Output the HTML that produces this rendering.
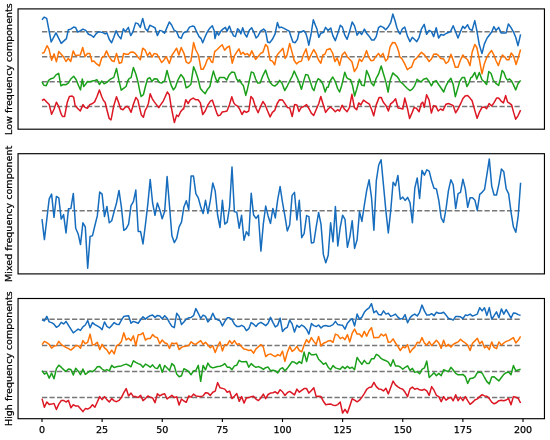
<!DOCTYPE html>
<html><head><meta charset="utf-8"><style>html,body{margin:0;padding:0;background:#fff;}svg{display:block;}</style></head><body>
<svg width="550" height="440" viewBox="0 0 550 440">
<rect width="550" height="440" fill="#fff"/>
<line x1="42.00" y1="31.8" x2="520.60" y2="31.8" stroke="#777777" stroke-width="1.5" stroke-dasharray="5.24 2.26"/>
<line x1="42.00" y1="56.7" x2="520.60" y2="56.7" stroke="#777777" stroke-width="1.5" stroke-dasharray="5.24 2.26"/>
<line x1="42.00" y1="81.7" x2="520.60" y2="81.7" stroke="#777777" stroke-width="1.5" stroke-dasharray="5.24 2.26"/>
<line x1="42.00" y1="106.6" x2="520.60" y2="106.6" stroke="#777777" stroke-width="1.5" stroke-dasharray="5.24 2.26"/>
<line x1="42.00" y1="210.8" x2="520.60" y2="210.8" stroke="#777777" stroke-width="1.5" stroke-dasharray="5.24 2.26"/>
<line x1="42.00" y1="319.3" x2="520.60" y2="319.3" stroke="#777777" stroke-width="1.5" stroke-dasharray="5.24 2.26"/>
<line x1="42.00" y1="345.4" x2="520.60" y2="345.4" stroke="#777777" stroke-width="1.5" stroke-dasharray="5.24 2.26"/>
<line x1="42.00" y1="371.4" x2="520.60" y2="371.4" stroke="#777777" stroke-width="1.5" stroke-dasharray="5.24 2.26"/>
<line x1="42.00" y1="397.5" x2="520.60" y2="397.5" stroke="#777777" stroke-width="1.5" stroke-dasharray="5.24 2.26"/>
<polyline points="42.0,19.8 44.1,17.1 46.7,18.4 51.2,42.0 56.0,32.9 61.2,43.4 66.4,38.6 68.3,29.8 70.7,29.1 73.7,27.1 75.5,27.4 77.8,32.1 80.5,30.7 83.0,29.1 85.7,30.4 88.5,34.3 91.2,35.2 93.6,37.3 96.0,33.9 98.0,32.1 100.7,32.1 103.5,32.9 105.1,33.9 106.9,32.9 109.2,39.3 111.6,42.7 113.8,37.3 116.1,30.7 118.5,35.9 120.9,38.9 123.4,28.8 125.3,31.6 128.4,27.4 130.7,35.6 132.9,31.8 135.6,22.9 137.9,23.6 140.3,27.4 142.7,18.4 145.2,28.4 147.5,31.1 149.8,25.3 152.3,26.4 155.0,27.7 157.4,35.6 159.8,30.4 162.1,31.1 164.6,33.2 167.0,27.4 169.3,22.0 171.6,25.0 174.1,30.2 176.6,31.6 178.9,37.3 181.2,38.4 182.9,33.9 184.1,32.5 186.8,31.6 189.5,27.1 192.2,26.1 194.3,26.6 196.7,31.8 199.1,36.6 201.1,38.6 202.7,42.7 204.9,37.3 207.2,32.1 209.3,28.8 212.3,25.7 214.1,30.4 215.0,38.6 216.8,31.8 218.6,35.2 220.9,31.1 222.9,29.1 225.4,27.4 227.0,31.1 229.4,26.1 231.1,30.7 233.6,35.9 235.4,36.6 237.6,28.8 239.3,30.4 240.9,33.9 242.7,27.7 244.7,33.9 246.8,37.0 249.1,30.4 251.6,27.7 254.0,32.5 256.1,38.0 258.1,35.9 260.6,31.1 263.6,29.1 265.6,31.1 267.6,42.0 269.7,42.7 272.4,39.3 275.1,33.9 277.4,22.6 279.2,27.7 281.3,27.1 284.0,28.4 286.7,29.8 289.2,31.1 290.8,35.9 292.9,42.0 295.2,42.7 297.4,39.3 299.0,32.5 301.4,31.8 303.8,30.7 305.8,33.2 307.4,38.6 308.8,45.2 311.0,34.5 313.3,19.8 315.6,25.7 317.0,29.1 318.8,37.3 320.8,33.2 323.3,32.5 325.6,27.4 328.1,30.4 330.8,28.0 332.8,35.6 335.3,40.7 337.6,33.9 340.3,25.3 342.4,27.1 344.8,35.2 347.1,39.3 349.4,32.1 352.2,22.0 354.6,26.1 357.1,35.2 359.4,31.8 361.7,34.5 364.4,29.1 366.6,33.2 368.9,35.9 371.7,40.0 374.0,40.0 376.2,36.6 378.5,27.7 380.6,26.1 383.3,27.4 385.7,29.8 388.1,27.1 390.8,22.3 392.8,14.1 394.9,20.2 396.9,27.7 398.9,32.5 400.1,33.9 402.4,28.8 404.8,27.1 407.3,35.9 410.0,41.6 412.3,37.3 414.4,39.3 416.8,41.6 419.1,37.3 421.4,29.1 424.2,24.3 426.6,34.3 429.1,30.4 431.4,31.6 433.7,36.6 436.2,27.7 438.6,38.0 440.9,34.5 443.7,35.2 446.0,33.5 448.4,32.5 450.5,31.6 453.2,25.7 455.6,31.8 458.0,38.0 460.4,31.8 462.8,26.4 464.8,28.4 467.6,24.7 469.6,29.1 472.1,30.4 474.8,20.6 476.8,30.4 479.3,44.8 482.0,53.6 484.3,44.1 487.1,38.0 489.8,34.5 491.8,31.8 493.9,26.6 495.9,30.4 498.6,27.4 501.1,32.9 503.4,32.9 506.1,32.9 508.4,23.9 510.9,27.4 513.4,31.8 515.7,37.3 518.0,45.7 520.6,34.3" fill="none" stroke="#166cbd" stroke-width="1.5" stroke-linejoin="round"/>
<polyline points="42.0,53.4 44.1,52.5 47.0,45.7 48.9,48.9 51.6,60.2 54.1,53.9 56.4,61.8 58.7,51.6 61.2,54.3 63.6,57.0 66.0,61.5 68.3,58.4 70.7,61.5 73.2,50.9 75.5,55.7 77.8,55.3 80.3,55.0 82.7,47.5 85.0,56.4 87.4,53.6 89.8,53.4 91.9,61.5 93.9,61.1 96.6,63.9 99.4,65.9 101.8,57.7 104.1,56.4 106.5,50.9 108.9,56.4 112.0,60.7 114.1,61.5 116.5,53.4 119.3,63.2 121.6,62.5 123.6,53.4 126.1,54.3 128.4,54.3 130.4,52.3 132.9,52.0 135.2,53.4 137.9,57.0 140.3,59.8 142.7,48.2 145.2,50.2 147.5,55.7 149.8,52.3 152.0,57.0 154.3,53.4 157.1,54.3 159.4,58.4 161.6,62.5 163.9,60.2 166.2,56.6 169.3,63.5 172.1,55.0 174.4,51.6 176.6,48.2 178.9,55.0 181.2,47.5 184.1,53.6 186.1,61.8 188.6,63.5 190.9,61.1 193.6,42.5 195.6,49.5 198.4,55.0 201.1,69.3 203.1,69.3 205.2,65.2 207.2,59.8 209.3,57.5 211.3,61.8 212.7,62.5 214.7,51.6 217.2,49.5 219.9,46.8 222.2,44.8 224.6,50.2 227.0,47.5 229.4,46.1 232.2,63.2 234.5,55.7 236.6,52.3 239.0,48.9 240.9,54.3 243.1,52.3 245.0,54.7 247.2,53.6 249.5,56.1 251.8,50.9 254.3,56.4 255.6,59.4 258.1,56.6 260.6,53.4 262.9,52.3 265.6,44.4 267.6,46.8 270.1,60.2 272.4,61.1 274.7,64.8 276.5,56.4 278.3,53.4 280.6,50.9 282.9,48.2 285.1,58.4 287.0,55.0 289.7,43.4 291.9,51.6 294.2,60.5 296.6,63.9 299.0,61.8 301.4,61.1 303.4,54.7 306.1,48.9 308.6,60.2 311.0,55.0 313.7,49.5 316.1,53.6 318.4,59.8 320.8,63.2 322.9,55.0 324.9,54.3 326.9,49.5 328.1,49.5 330.1,48.5 332.6,53.0 334.9,61.5 337.2,58.0 339.6,65.2 342.1,55.0 344.8,52.0 347.1,56.4 349.4,59.1 351.9,61.8 354.4,71.5 357.1,67.3 359.4,59.1 361.7,61.5 364.2,57.0 366.6,50.6 368.6,57.0 371.0,60.7 373.7,60.2 375.8,56.4 378.5,53.4 380.6,56.6 383.0,53.4 385.7,61.1 387.6,59.1 390.1,46.8 392.6,42.5 394.9,42.7 396.9,46.5 398.9,52.3 399.6,56.4 402.1,59.1 404.8,63.9 407.3,69.7 409.6,68.0 411.6,67.0 414.1,60.2 416.4,58.4 419.1,55.0 421.4,52.3 423.9,54.3 426.6,57.7 429.1,61.5 431.4,59.1 433.7,54.3 436.2,53.9 438.6,55.7 440.9,58.4 443.7,59.1 446.0,63.5 448.4,61.5 450.9,54.3 453.2,60.2 455.3,67.3 458.0,67.3 460.4,60.2 462.8,55.0 465.1,57.7 467.6,59.8 470.0,65.6 472.1,52.3 474.8,44.4 476.8,47.5 479.3,59.1 482.0,73.8 484.3,63.9 486.6,57.7 489.1,53.6 491.6,50.6 493.9,55.0 495.9,60.5 498.4,65.6 500.3,59.8 502.4,55.0 504.8,57.0 506.8,59.8 508.9,59.8 511.2,53.0 513.4,55.7 516.1,64.5 518.4,57.0 520.6,49.5" fill="none" stroke="#ff7305" stroke-width="1.5" stroke-linejoin="round"/>
<polyline points="42.0,81.7 43.7,85.1 46.2,85.8 48.6,80.4 51.0,78.7 53.7,77.9 56.0,74.9 58.7,73.3 60.9,85.8 63.2,84.5 66.0,84.7 68.3,83.1 71.0,78.7 73.7,76.3 76.2,79.7 78.6,85.8 80.5,89.9 82.3,79.0 83.7,86.5 85.0,85.1 87.4,81.5 90.1,81.7 92.5,81.0 95.0,80.4 96.9,79.7 99.4,84.5 101.8,81.0 104.1,83.8 106.9,82.4 109.6,79.7 112.0,78.3 113.8,77.4 116.5,68.4 118.9,80.4 121.2,90.2 123.6,88.3 126.1,86.5 127.7,81.0 129.1,78.7 131.1,77.6 133.4,67.4 135.9,74.2 137.9,81.7 139.7,90.6 141.1,96.5 143.4,94.7 145.4,86.5 147.5,79.0 149.8,77.6 152.0,81.5 154.3,78.7 157.1,79.0 159.1,82.4 161.6,83.1 163.4,81.7 164.6,81.0 167.0,70.5 168.9,77.6 171.1,85.1 173.4,89.9 175.4,87.2 177.5,81.0 179.3,77.4 180.9,74.6 182.9,77.0 184.1,79.0 186.1,87.9 188.6,86.5 190.9,84.2 193.6,66.7 195.6,71.5 198.1,79.0 200.4,88.5 202.7,91.3 205.2,93.7 207.6,89.2 209.9,86.5 211.7,77.6 213.4,71.1 215.4,77.6 217.4,82.4 219.5,77.6 221.6,77.6 224.3,77.6 226.7,80.1 229.1,74.9 231.8,71.9 234.5,72.5 236.6,79.0 238.2,81.0 239.6,79.7 241.3,83.1 243.4,85.8 245.8,95.4 247.4,89.2 249.1,81.7 251.3,71.9 253.6,72.9 255.6,79.0 257.8,83.1 260.1,83.1 262.9,75.6 265.6,70.1 267.6,76.3 270.1,82.4 272.4,85.1 274.7,86.1 277.2,84.2 279.6,80.4 281.9,83.1 284.7,90.6 287.4,85.8 289.7,81.0 292.2,76.3 294.2,71.1 296.6,76.3 299.0,81.7 301.4,89.2 303.1,83.1 305.6,74.6 307.9,74.9 309.9,80.4 312.4,88.5 314.0,90.6 316.1,83.1 318.1,78.7 320.6,80.4 322.9,84.2 325.2,92.0 326.9,87.2 328.1,87.2 330.1,81.0 332.8,77.0 335.3,81.5 337.6,88.5 339.6,92.0 341.7,85.5 344.8,72.2 346.7,77.6 348.5,79.0 350.6,79.7 352.6,85.8 354.6,96.0 356.7,89.2 359.4,79.3 361.7,85.1 364.2,85.8 366.6,70.5 368.9,75.6 371.3,83.1 373.7,85.8 376.2,78.3 378.5,74.2 381.2,66.0 383.3,73.3 386.0,82.4 388.1,92.0 390.1,80.4 392.8,72.9 394.9,74.9 396.9,76.3 398.9,79.0 400.1,81.7 402.1,83.1 404.6,85.8 407.3,88.5 410.0,90.6 412.3,89.2 414.6,85.8 417.1,79.3 419.1,81.0 421.2,81.7 423.6,79.3 426.6,78.3 429.1,81.5 431.4,85.8 433.7,81.7 436.2,80.6 438.6,84.5 441.4,88.5 443.7,92.0 445.7,86.5 448.2,81.7 450.9,78.3 453.2,84.5 455.3,96.7 457.3,89.9 459.6,81.7 462.1,77.6 464.6,77.6 466.9,86.5 468.9,83.1 470.9,77.6 472.1,77.0 474.8,72.5 476.8,79.0 479.3,72.5 482.0,79.7 484.3,81.7 486.6,84.5 488.8,71.5 491.1,73.5 493.2,80.1 495.6,83.1 498.6,85.5 500.3,79.0 502.1,70.5 503.8,72.2 505.7,77.6 507.5,80.1 509.6,79.0 511.6,81.0 513.6,85.1 515.7,89.9 518.0,83.8 520.6,80.4" fill="none" stroke="#1ba01b" stroke-width="1.5" stroke-linejoin="round"/>
<polyline points="42.0,100.5 44.1,99.2 46.9,102.2 49.2,104.6 51.6,114.2 54.1,109.0 56.4,102.2 58.7,106.5 61.2,114.2 62.5,116.5 64.6,116.5 67.3,102.2 69.4,96.5 72.1,96.0 73.7,97.4 75.1,105.6 77.5,108.3 80.3,111.0 83.0,104.6 85.0,107.4 87.4,108.3 89.8,104.6 92.5,103.5 94.6,101.9 96.9,96.7 99.4,89.9 101.8,96.7 103.5,100.5 105.1,102.2 106.9,109.7 109.2,118.5 111.0,119.9 111.6,117.2 113.8,105.6 116.5,96.7 118.5,102.2 120.6,108.7 123.0,109.7 125.0,107.4 127.0,106.3 129.1,108.3 131.1,112.4 133.4,104.2 135.9,97.4 137.9,100.1 139.7,108.3 141.4,115.1 143.4,117.2 145.2,110.4 146.8,107.6 148.4,103.5 150.2,93.7 152.3,98.8 154.3,101.9 156.4,104.6 158.8,107.6 161.1,104.2 163.4,100.8 165.2,96.7 167.3,92.0 169.3,94.7 171.1,106.3 173.0,115.8 174.4,122.6 176.6,115.1 178.4,116.5 180.6,111.7 182.9,109.0 183.6,109.0 185.8,99.7 188.1,103.5 190.4,99.7 193.2,98.1 195.6,99.7 198.1,99.7 200.4,102.9 202.7,114.5 205.2,111.0 207.9,104.9 210.4,101.1 212.3,100.1 214.4,106.3 216.8,113.1 218.1,115.8 220.2,115.1 222.2,112.0 224.9,111.5 227.0,111.0 229.4,104.9 231.8,96.7 233.8,102.9 235.4,104.9 237.9,106.3 239.9,109.7 242.0,114.5 244.1,111.0 246.4,112.4 248.8,111.0 250.9,96.5 252.9,98.8 254.9,104.9 256.1,108.3 258.1,112.8 260.6,106.5 262.9,101.5 265.2,104.9 267.6,111.0 270.1,116.9 272.4,112.4 274.7,110.4 277.2,103.5 279.6,99.7 282.6,100.1 285.1,103.8 287.4,107.4 289.7,107.9 292.2,116.5 294.6,104.6 296.9,104.9 299.0,111.5 301.1,107.6 303.8,106.5 306.5,104.6 309.2,109.0 311.3,113.1 313.7,115.5 316.1,109.7 318.8,103.5 320.8,96.5 322.9,103.5 325.6,112.4 328.1,109.0 330.4,107.0 332.8,109.0 335.3,111.7 337.6,109.7 339.6,111.0 342.1,105.2 344.4,109.0 347.1,111.7 349.4,107.6 351.9,94.3 354.4,107.6 356.7,109.7 358.7,102.9 360.8,104.9 363.5,100.1 366.2,102.2 369.4,104.2 371.7,109.7 373.7,115.8 376.2,104.9 379.2,97.4 381.2,97.4 383.3,102.2 386.0,105.6 388.4,111.0 390.4,104.2 392.8,102.2 395.6,98.8 398.0,107.9 400.1,108.3 402.8,109.0 404.8,98.1 407.3,107.6 409.6,118.5 411.9,113.1 414.1,107.6 416.4,108.3 419.1,111.7 421.2,103.5 422.8,102.2 424.2,107.4 426.6,94.7 429.1,100.1 431.4,113.1 433.7,105.6 435.9,106.3 438.2,111.0 440.6,109.0 443.0,110.4 446.0,104.2 448.4,103.5 451.2,104.6 453.2,105.6 455.6,112.8 458.0,109.0 460.4,104.2 462.8,98.8 465.1,96.0 467.6,95.6 470.0,98.1 472.1,100.8 474.8,110.4 477.1,118.3 479.3,112.4 482.0,107.4 484.3,107.0 486.6,108.7 489.1,103.5 491.6,106.0 493.9,102.9 496.6,98.1 498.6,98.1 501.1,101.1 503.4,102.9 505.7,95.6 507.5,101.9 509.6,103.3 511.6,104.9 513.6,112.4 515.7,119.2 518.0,115.8 520.6,110.1" fill="none" stroke="#dc1723" stroke-width="1.5" stroke-linejoin="round"/>
<polyline points="42.0,219.1 44.4,239.6 46.8,219.4 49.2,198.9 51.6,194.1 54.0,217.3 56.4,196.4 58.8,197.8 61.2,219.1 63.6,214.6 66.0,233.0 68.5,208.7 70.9,208.4 73.3,193.4 75.7,228.2 78.1,233.7 80.5,244.6 82.9,222.8 85.3,226.9 87.7,268.3 90.1,236.4 92.5,235.7 94.9,225.5 97.3,215.9 99.7,192.1 102.1,194.1 104.5,216.6 106.9,206.4 109.3,222.8 111.7,220.7 114.2,211.2 116.5,203.0 119.0,190.4 121.4,207.1 123.8,230.3 126.2,228.6 128.6,224.1 131.0,205.7 133.4,201.6 135.8,190.1 138.2,231.4 140.6,231.6 143.0,243.9 145.4,224.8 147.8,204.4 150.2,179.4 152.6,203.0 155.0,215.3 157.4,203.0 159.8,209.8 162.2,218.7 164.7,211.2 167.1,176.6 169.5,205.7 171.9,235.7 174.3,242.6 176.7,238.4 179.1,226.9 181.5,222.1 183.9,206.9 186.3,200.7 188.7,209.6 191.1,176.1 193.5,176.1 195.9,193.9 198.3,197.9 200.7,206.8 203.1,213.6 205.5,200.3 207.9,213.4 210.3,200.7 212.8,182.9 215.2,191.1 217.6,215.0 220.0,227.5 222.4,200.3 224.8,224.1 227.2,222.1 229.6,206.8 232.0,167.1 234.4,211.6 236.8,212.3 239.2,228.2 241.6,215.2 244.0,240.2 246.4,231.6 248.8,235.7 251.2,193.2 253.6,215.0 256.0,218.4 258.4,215.2 260.9,251.1 263.3,224.1 265.7,206.1 268.1,215.9 270.5,223.4 272.9,208.4 275.3,217.9 277.7,199.6 280.1,186.6 282.5,202.3 284.9,215.9 287.3,230.9 289.7,224.8 292.1,195.4 294.5,192.4 296.9,220.0 299.3,200.2 301.7,237.7 304.1,233.6 306.6,215.6 308.9,216.6 311.4,242.9 313.8,242.5 316.2,226.8 318.6,212.5 321.0,224.1 323.4,254.6 325.8,262.7 328.2,255.3 330.6,222.7 333.0,241.8 335.4,206.6 337.8,245.9 340.2,227.5 342.6,215.2 345.0,219.3 347.4,247.3 349.8,237.1 352.2,220.7 354.6,248.4 357.1,239.8 359.5,211.6 361.9,221.4 364.3,205.4 366.7,190.4 369.1,179.8 371.5,197.3 373.9,230.2 376.3,180.9 378.7,165.0 381.1,159.8 383.5,185.4 385.9,210.9 388.3,232.9 390.7,210.9 393.1,182.3 395.5,185.7 397.9,175.4 400.3,199.3 402.8,197.1 405.1,200.4 407.6,197.4 410.0,202.5 412.4,222.7 414.8,188.2 417.2,177.9 419.6,198.4 422.0,170.4 424.4,175.2 426.8,169.8 429.2,171.1 431.6,180.7 434.0,188.2 436.4,188.9 438.8,200.4 441.2,217.9 443.6,222.4 446.0,209.1 448.4,190.9 450.9,179.7 453.2,184.8 455.7,208.6 458.1,193.6 460.5,192.3 462.9,179.3 465.3,188.9 467.7,207.3 470.1,197.7 472.5,197.7 474.9,200.2 477.3,210.4 479.7,194.3 482.1,192.3 484.5,189.6 486.9,174.6 489.3,158.9 491.7,186.1 494.1,195.0 496.5,195.0 498.9,184.1 501.4,169.1 503.8,171.8 506.2,188.9 508.6,193.6 511.0,211.8 513.4,226.8 515.8,232.3 518.2,215.9 520.6,182.7" fill="none" stroke="#166cbd" stroke-width="1.5" stroke-linejoin="round"/>
<polyline points="42.0,319.8 44.4,320.9 46.8,316.4 49.2,321.9 51.6,322.6 54.0,324.2 56.4,327.3 58.8,325.9 61.2,322.3 63.6,323.9 66.0,321.4 68.5,325.3 70.9,329.1 73.3,332.8 75.7,331.0 78.1,329.1 80.5,330.4 82.9,326.9 85.3,325.0 87.7,320.5 90.1,327.7 92.5,322.6 94.9,324.6 97.3,325.9 99.7,327.3 102.1,329.6 104.5,321.9 106.9,326.4 109.3,328.0 111.7,325.6 114.2,322.6 116.5,324.2 119.0,324.6 121.4,320.1 123.8,316.4 126.2,316.0 128.6,315.7 131.0,323.2 133.4,321.4 135.8,322.3 138.2,323.2 140.6,319.8 143.0,316.8 145.4,319.1 147.8,317.1 150.2,315.7 152.6,315.1 155.0,317.4 157.4,315.4 159.8,316.0 162.2,318.7 164.7,315.7 167.1,318.2 169.5,322.6 171.9,326.4 174.3,327.7 176.7,313.3 179.1,316.4 181.5,324.6 183.9,321.9 186.3,319.1 188.7,317.8 191.1,317.4 193.5,315.7 195.9,308.6 198.3,313.3 200.7,318.4 203.1,315.1 205.5,316.4 207.9,321.9 210.3,319.1 212.8,313.3 215.2,318.4 217.6,319.8 220.0,320.9 222.4,325.9 224.8,321.4 227.2,317.8 229.6,317.8 232.0,319.6 234.4,324.2 236.8,326.4 239.2,326.6 241.6,325.3 244.0,326.6 246.4,330.7 248.8,328.7 251.2,322.6 253.6,324.2 256.0,326.5 258.4,323.6 260.9,322.3 263.3,323.9 265.7,325.6 268.1,323.2 270.5,317.4 272.9,322.3 275.3,326.9 277.7,325.3 280.1,318.2 282.5,331.4 284.9,328.7 287.3,327.3 289.7,320.1 292.1,323.9 294.5,332.1 296.9,325.3 299.3,327.3 301.7,325.0 304.1,326.6 306.6,329.4 308.9,334.1 311.4,323.6 313.8,325.6 316.2,326.6 318.6,325.0 321.0,328.0 323.4,325.9 325.8,325.6 328.2,326.2 330.6,325.9 333.0,324.6 335.4,321.4 337.8,324.6 340.2,325.0 342.6,325.3 345.0,329.1 347.4,323.2 349.8,320.5 352.2,318.7 354.6,325.9 357.1,314.1 359.5,319.1 361.9,317.1 364.3,312.3 366.7,309.6 369.1,307.8 371.5,303.7 373.9,312.7 376.3,310.9 378.7,314.6 381.1,315.1 383.5,310.9 385.9,314.1 388.3,313.3 390.7,316.4 393.1,315.4 395.5,314.1 397.9,317.1 400.3,319.1 402.8,318.4 405.1,314.6 407.6,322.8 410.0,317.8 412.4,315.4 414.8,314.1 417.2,316.0 419.6,312.3 422.0,305.1 424.4,310.9 426.8,315.1 429.2,315.1 431.6,313.7 434.0,315.7 436.4,312.3 438.8,313.3 441.2,313.3 443.6,312.3 446.0,315.1 448.4,318.2 450.9,319.1 453.2,320.1 455.7,316.4 458.1,316.4 460.5,316.8 462.9,318.7 465.3,315.1 467.7,315.4 470.1,314.1 472.5,316.1 474.9,315.1 477.3,314.1 479.7,307.8 482.1,310.9 484.5,307.8 486.9,315.4 489.3,307.6 491.7,319.1 494.1,315.7 496.5,311.9 498.9,317.8 501.4,308.9 503.8,314.1 506.2,309.6 508.6,313.7 511.0,318.2 513.4,313.0 515.8,313.3 518.2,314.6 520.6,315.4" fill="none" stroke="#166cbd" stroke-width="1.5" stroke-linejoin="round"/>
<polyline points="42.0,344.6 44.4,341.4 46.8,342.7 49.2,344.4 51.6,348.2 54.0,346.0 56.4,345.7 58.8,341.4 61.2,344.4 63.6,346.0 66.0,347.4 68.5,348.7 70.9,350.1 73.3,348.2 75.7,345.4 78.1,345.7 80.5,348.2 82.9,340.6 85.3,343.7 87.7,342.3 90.1,334.1 92.5,345.1 94.9,344.4 97.3,342.3 99.7,349.6 102.1,344.4 104.5,347.8 106.9,349.8 109.3,353.9 111.7,350.2 114.2,353.9 116.5,345.7 119.0,344.4 121.4,341.6 123.8,332.8 126.2,340.0 128.6,338.2 131.0,340.6 133.4,335.9 135.8,345.7 138.2,334.8 140.6,334.6 143.0,332.8 145.4,340.0 147.8,338.6 150.2,338.6 152.6,334.6 155.0,336.9 157.4,337.8 159.8,343.7 162.2,340.0 164.7,342.7 167.1,343.7 169.5,348.4 171.9,343.0 174.3,343.7 176.7,343.0 179.1,349.6 181.5,347.4 183.9,346.4 186.3,346.0 188.7,345.4 191.1,341.9 193.5,343.7 195.9,344.4 198.3,342.3 200.7,340.6 203.1,344.4 205.5,342.3 207.9,345.1 210.3,347.8 212.8,345.7 215.2,352.6 217.6,346.4 220.0,341.9 222.4,350.9 224.8,344.4 227.2,345.1 229.6,340.6 232.0,343.7 234.4,340.6 236.8,344.4 239.2,343.7 241.6,346.8 244.0,349.1 246.4,349.6 248.8,350.5 251.2,350.1 253.6,353.2 256.0,348.8 258.4,346.8 260.9,344.6 263.3,347.1 265.7,356.6 268.1,354.6 270.5,353.9 272.9,355.3 275.3,356.6 277.7,354.6 280.1,355.9 282.5,351.2 284.9,361.4 287.3,352.6 289.7,346.4 292.1,351.4 294.5,349.6 296.9,346.4 299.3,350.5 301.7,351.9 304.1,345.1 306.6,339.6 308.9,342.7 311.4,337.6 313.8,341.4 316.2,344.4 318.6,336.4 321.0,346.0 323.4,343.3 325.8,342.3 328.2,340.9 330.6,340.6 333.0,342.3 335.4,334.1 337.8,335.1 340.2,338.6 342.6,337.3 345.0,339.6 347.4,334.6 349.8,341.9 352.2,333.2 354.6,329.1 357.1,334.1 359.5,334.1 361.9,336.9 364.3,331.4 366.7,336.2 369.1,330.7 371.5,327.7 373.9,337.8 376.3,337.6 378.7,337.6 381.1,334.1 383.5,335.9 385.9,334.1 388.3,342.3 390.7,341.9 393.1,338.9 395.5,343.0 397.9,346.4 400.3,350.5 402.8,346.8 405.1,347.8 407.6,344.6 410.0,352.6 412.4,349.1 414.8,347.1 417.2,342.3 419.6,343.0 422.0,337.6 424.4,343.0 426.8,345.1 429.2,341.6 431.6,345.7 434.0,343.0 436.4,340.3 438.8,343.0 441.2,348.4 443.6,340.3 446.0,346.4 448.4,344.4 450.9,347.1 453.2,344.4 455.7,343.0 458.1,341.9 460.5,339.2 462.9,341.4 465.3,343.0 467.7,345.1 470.1,350.5 472.5,343.3 474.9,340.9 477.3,338.2 479.7,343.7 482.1,341.4 484.5,347.8 486.9,346.4 489.3,349.6 491.7,341.9 494.1,347.4 496.5,348.7 498.9,341.9 501.4,345.1 503.8,343.0 506.2,341.4 508.6,340.6 511.0,339.2 513.4,337.6 515.8,343.0 518.2,340.3 520.6,336.4" fill="none" stroke="#ff7305" stroke-width="1.5" stroke-linejoin="round"/>
<polyline points="42.0,370.6 44.4,374.1 46.8,372.7 49.2,378.1 51.6,373.1 54.0,378.8 56.4,368.6 58.8,365.2 61.2,367.2 63.6,369.6 66.0,371.3 68.5,369.0 70.9,369.6 73.3,375.0 75.7,368.2 78.1,370.9 80.5,374.7 82.9,369.0 85.3,374.4 87.7,372.7 90.1,370.9 92.5,371.7 94.9,369.9 97.3,366.8 99.7,366.6 102.1,369.0 104.5,370.6 106.9,369.6 109.3,370.9 111.7,365.4 114.2,367.6 116.5,366.8 119.0,366.3 121.4,365.9 123.8,364.9 126.2,364.1 128.6,365.2 131.0,366.8 133.4,360.8 135.8,362.4 138.2,363.6 140.6,364.5 143.0,367.2 145.4,364.1 147.8,365.4 150.2,367.2 152.6,364.9 155.0,367.9 157.4,368.6 159.8,364.5 162.2,372.3 164.7,365.4 167.1,367.9 169.5,370.6 171.9,363.6 174.3,365.9 176.7,374.1 179.1,376.8 181.5,375.8 183.9,368.8 186.3,369.9 188.7,371.7 191.1,374.7 193.5,370.9 195.9,370.4 198.3,365.4 200.7,381.3 203.1,365.4 205.5,369.9 207.9,363.1 210.3,366.8 212.8,367.9 215.2,367.2 217.6,366.6 220.0,366.3 222.4,365.4 224.8,363.6 227.2,367.2 229.6,367.2 232.0,369.6 234.4,365.9 236.8,365.2 239.2,360.4 241.6,361.8 244.0,361.8 246.4,361.4 248.8,367.2 251.2,363.6 253.6,365.9 256.0,367.3 258.4,366.6 260.9,367.7 263.3,369.4 265.7,367.7 268.1,367.1 270.5,370.7 272.9,370.2 275.3,370.7 277.7,372.9 280.1,369.1 282.5,367.7 284.9,370.7 287.3,368.4 289.7,365.0 292.1,361.6 294.5,362.3 296.9,363.9 299.3,361.6 301.7,363.4 304.1,352.1 306.6,361.6 308.9,352.4 311.4,354.8 313.8,354.8 316.2,354.1 318.6,359.3 321.0,361.6 323.4,364.3 325.8,362.9 328.2,367.2 330.6,369.7 333.0,365.6 335.4,367.9 337.8,368.6 340.2,369.3 342.6,366.6 345.0,368.6 347.4,366.2 349.8,368.4 352.2,367.3 354.6,369.7 357.1,357.4 359.5,361.1 361.9,364.3 364.3,360.4 366.7,363.4 369.1,363.4 371.5,358.8 373.9,358.8 376.3,354.3 378.7,355.7 381.1,358.4 383.5,359.8 385.9,360.7 388.3,362.1 390.7,366.2 393.1,359.8 395.5,365.9 397.9,365.9 400.3,367.0 402.8,369.3 405.1,367.3 407.6,365.9 410.0,370.3 412.4,368.4 414.8,372.4 417.2,371.6 419.6,373.8 422.0,369.3 424.4,367.9 426.8,361.1 429.2,377.5 431.6,375.2 434.0,372.7 436.4,375.7 438.8,373.4 441.2,375.7 443.6,369.7 446.0,370.7 448.4,371.6 450.9,367.3 453.2,370.0 455.7,373.4 458.1,374.8 460.5,374.8 462.9,374.4 465.3,376.6 467.7,383.4 470.1,378.4 472.5,378.3 474.9,376.8 477.3,372.7 479.7,372.1 482.1,373.0 484.5,377.5 486.9,381.6 489.3,383.9 491.7,377.1 494.1,376.8 496.5,378.9 498.9,380.9 501.4,377.5 503.8,374.4 506.2,372.7 508.6,372.1 511.0,374.8 513.4,365.6 515.8,370.7 518.2,370.0 520.6,369.3" fill="none" stroke="#1ba01b" stroke-width="1.5" stroke-linejoin="round"/>
<polyline points="42.0,398.6 44.4,407.2 46.8,402.0 49.2,404.4 51.6,404.1 54.0,403.4 56.4,409.5 58.8,404.1 61.2,400.6 63.6,400.4 66.0,402.0 68.5,400.4 70.9,407.7 73.3,404.7 75.7,406.1 78.1,406.1 80.5,408.8 82.9,411.6 85.3,408.6 87.7,409.1 90.1,407.7 92.5,404.7 94.9,407.2 97.3,402.0 99.7,396.6 102.1,399.6 104.5,396.6 106.9,399.6 109.3,402.0 111.7,398.6 114.2,400.9 116.5,401.7 119.0,400.4 121.4,397.6 123.8,392.7 126.2,388.6 128.6,395.9 131.0,393.1 133.4,396.6 135.8,396.6 138.2,397.6 140.6,395.2 143.0,400.6 145.4,398.6 147.8,395.9 150.2,397.2 152.6,397.9 155.0,402.7 157.4,393.8 159.8,395.9 162.2,394.5 164.7,393.8 167.1,399.0 169.5,397.2 171.9,395.4 174.3,397.6 176.7,396.8 179.1,405.0 181.5,399.0 183.9,401.0 186.3,402.3 188.7,395.9 191.1,397.2 193.5,394.1 195.9,395.9 198.3,396.3 200.7,396.6 203.1,395.9 205.5,392.7 207.9,393.1 210.3,395.4 212.8,392.2 215.2,391.1 217.6,382.6 220.0,387.7 222.4,388.4 224.8,389.1 227.2,392.2 229.6,391.1 232.0,398.6 234.4,396.3 236.8,393.6 239.2,401.3 241.6,396.6 244.0,403.1 246.4,397.9 248.8,397.6 251.2,396.8 253.6,396.3 256.0,399.1 258.4,400.6 260.9,397.9 263.3,394.1 265.7,398.6 268.1,394.5 270.5,393.1 272.9,392.7 275.3,391.8 277.7,393.6 280.1,389.7 282.5,391.8 284.9,395.4 287.3,392.7 289.7,391.4 292.1,393.1 294.5,394.9 296.9,389.1 299.3,392.2 301.7,390.4 304.1,388.6 306.6,388.6 308.9,393.1 311.4,390.4 313.8,387.7 316.2,396.6 318.6,396.3 321.0,396.6 323.4,401.3 325.8,404.7 328.2,404.3 330.6,403.9 333.0,405.2 335.4,405.6 337.8,404.6 340.2,402.1 342.6,413.0 345.0,409.3 347.4,413.0 349.8,405.9 352.2,398.8 354.6,400.2 357.1,401.8 359.5,400.2 361.9,397.1 364.3,393.6 366.7,389.3 369.1,387.5 371.5,387.1 373.9,382.4 376.3,386.6 378.7,388.9 381.1,389.3 383.5,390.9 385.9,388.2 388.3,393.9 390.7,387.5 393.1,381.1 395.5,384.8 397.9,386.8 400.3,388.4 402.8,389.3 405.1,392.3 407.6,396.6 410.0,388.9 412.4,387.1 414.8,389.3 417.2,388.4 419.6,389.8 422.0,390.2 424.4,389.3 426.8,390.9 429.2,395.3 431.6,386.6 434.0,390.2 436.4,395.3 438.8,396.6 441.2,401.6 443.6,396.6 446.0,400.2 448.4,398.4 450.9,397.4 453.2,400.7 455.7,394.7 458.1,400.7 460.5,397.1 462.9,400.7 465.3,396.6 467.7,400.7 470.1,404.3 472.5,402.4 474.9,400.0 477.3,398.9 479.7,396.6 482.1,394.6 484.5,395.9 486.9,396.2 489.3,398.6 491.7,402.1 494.1,403.8 496.5,402.7 498.9,400.7 501.4,400.3 503.8,400.7 506.2,400.0 508.6,398.4 511.0,404.8 513.4,396.6 515.8,397.3 518.2,398.4 520.6,403.0" fill="none" stroke="#dc1723" stroke-width="1.5" stroke-linejoin="round"/>
<rect x="18.05" y="8.9" width="526.40" height="120.30" fill="none" stroke="#000" stroke-width="1.15"/>
<rect x="18.05" y="153.7" width="526.40" height="120.20" fill="none" stroke="#000" stroke-width="1.15"/>
<rect x="18.05" y="298.5" width="526.40" height="120.20" fill="none" stroke="#000" stroke-width="1.15"/>
<line x1="42.00" y1="418.7" x2="42.00" y2="422.04" stroke="#000" stroke-width="1.1"/>
<text x="42.00" y="432.6" text-anchor="middle" font-size="9.55" font-family="DejaVu Sans, sans-serif" fill="#000" stroke="#000" stroke-width="0.25">0</text>
<line x1="102.12" y1="418.7" x2="102.12" y2="422.04" stroke="#000" stroke-width="1.1"/>
<text x="102.12" y="432.6" text-anchor="middle" font-size="9.55" font-family="DejaVu Sans, sans-serif" fill="#000" stroke="#000" stroke-width="0.25">25</text>
<line x1="162.25" y1="418.7" x2="162.25" y2="422.04" stroke="#000" stroke-width="1.1"/>
<text x="162.25" y="432.6" text-anchor="middle" font-size="9.55" font-family="DejaVu Sans, sans-serif" fill="#000" stroke="#000" stroke-width="0.25">50</text>
<line x1="222.37" y1="418.7" x2="222.37" y2="422.04" stroke="#000" stroke-width="1.1"/>
<text x="222.37" y="432.6" text-anchor="middle" font-size="9.55" font-family="DejaVu Sans, sans-serif" fill="#000" stroke="#000" stroke-width="0.25">75</text>
<line x1="282.50" y1="418.7" x2="282.50" y2="422.04" stroke="#000" stroke-width="1.1"/>
<text x="282.50" y="432.6" text-anchor="middle" font-size="9.55" font-family="DejaVu Sans, sans-serif" fill="#000" stroke="#000" stroke-width="0.25">100</text>
<line x1="342.62" y1="418.7" x2="342.62" y2="422.04" stroke="#000" stroke-width="1.1"/>
<text x="342.62" y="432.6" text-anchor="middle" font-size="9.55" font-family="DejaVu Sans, sans-serif" fill="#000" stroke="#000" stroke-width="0.25">125</text>
<line x1="402.75" y1="418.7" x2="402.75" y2="422.04" stroke="#000" stroke-width="1.1"/>
<text x="402.75" y="432.6" text-anchor="middle" font-size="9.55" font-family="DejaVu Sans, sans-serif" fill="#000" stroke="#000" stroke-width="0.25">150</text>
<line x1="462.87" y1="418.7" x2="462.87" y2="422.04" stroke="#000" stroke-width="1.1"/>
<text x="462.87" y="432.6" text-anchor="middle" font-size="9.55" font-family="DejaVu Sans, sans-serif" fill="#000" stroke="#000" stroke-width="0.25">175</text>
<line x1="523.00" y1="418.7" x2="523.00" y2="422.04" stroke="#000" stroke-width="1.1"/>
<text x="523.00" y="432.6" text-anchor="middle" font-size="9.55" font-family="DejaVu Sans, sans-serif" fill="#000" stroke="#000" stroke-width="0.25">200</text>
<text transform="translate(12.3,69.05) rotate(-90)" text-anchor="middle" font-size="9.55" font-family="DejaVu Sans, sans-serif" fill="#000" stroke="#000" stroke-width="0.25">Low frequency components</text>
<text transform="translate(12.3,213.80) rotate(-90)" text-anchor="middle" font-size="9.55" font-family="DejaVu Sans, sans-serif" fill="#000" stroke="#000" stroke-width="0.25">Mixed frequency component</text>
<text transform="translate(12.3,358.60) rotate(-90)" text-anchor="middle" font-size="9.55" font-family="DejaVu Sans, sans-serif" fill="#000" stroke="#000" stroke-width="0.25">High frequency components</text>
</svg>
</body></html>
